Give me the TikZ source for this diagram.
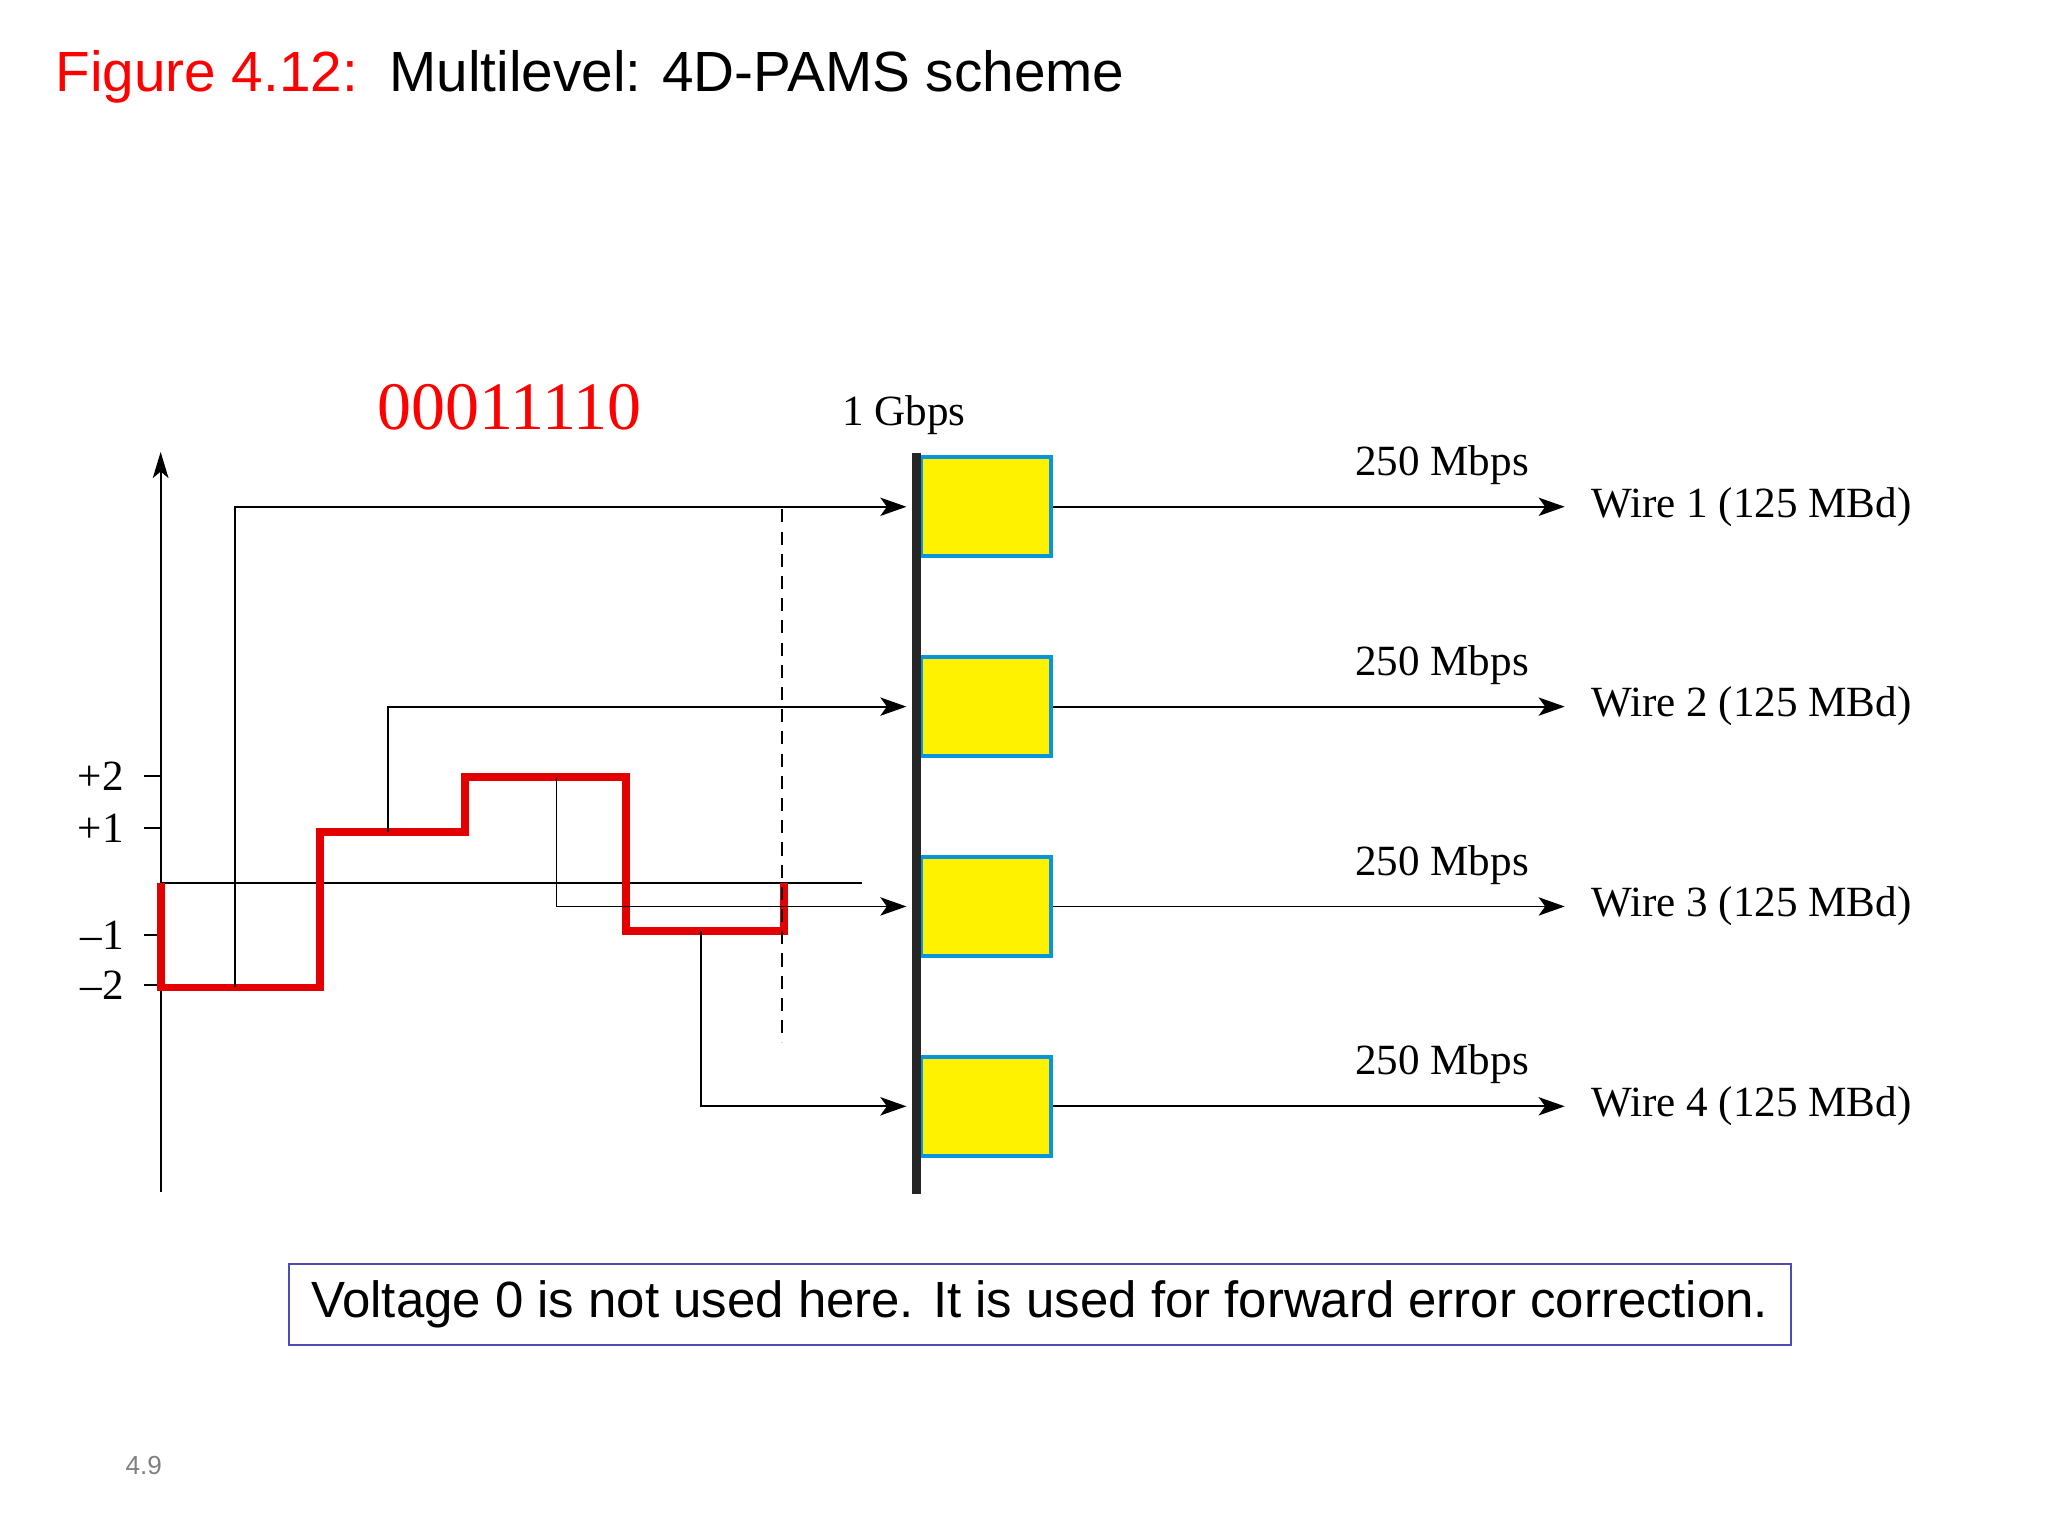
\documentclass[tikz,border=0pt]{standalone}
\usepackage{fontspec}
\setmainfont{Liberation Serif}
\newfontfamily\sans{Liberation Sans}
\usetikzlibrary{arrows.meta}
\begin{document}
\begin{tikzpicture}[x=0.5pt,y=-0.5pt,
  conn/.style={line width=0.7pt,-{Stealth[length=10pt,width=7pt,inset=2.5pt]}},
  ybox/.style={draw=cyan!80!blue,line width=1.5pt,fill=yellow,minimum width=50pt,minimum height=38pt,inner sep=0pt},
  lab/.style={font=\fontsize{16.5}{18}\selectfont,inner sep=0pt}]
\useasboundingbox (0,0) rectangle (1568,1176);
\node[anchor=west,inner sep=0pt,font=\sans\fontsize{21.7}{24}\selectfont] (title) at (42,59) {\textcolor{red}{Figure 4.12:}\ \ Multilevel: 4D-PAMS scheme};
\node[red,inner sep=0pt,font=\fontsize{26}{30}\selectfont] (bits) at (390,312) {00011110};
\node[lab] (gb) at (692,318) {1 Gbps};
% axis
\coordinate (a0) at (123,913); \coordinate (a1) at (123,346);
\draw[line width=0.8pt,-{Stealth[length=10pt,width=6pt,inset=2.5pt]}] (a0) -- (a1);
\foreach \y/\t in {594/+2,634/+1,716/\textendash1,754/\textendash2}{
  \draw[line width=0.7pt] (110,\y) -- (123,\y);
  \node[lab,anchor=east] at (95,\y) {\t};
}
\draw[line width=0.7pt] (123,676) -- (660,676);
% signal
\draw[red!90!black,line width=3pt] (123,676) -- (123,756) -- (245,756) -- (245,637) -- (356,637) -- (356,595) -- (479,595) -- (479,713) -- (600,713) -- (600,676);
\draw[dash pattern=on 5pt off 3.5pt,line width=0.7pt] (599,390) -- (599,798);
% boxes
\node[ybox] (b1) at (755,388) {};
\node[ybox] (b2) at (755,541) {};
\node[ybox] (b3) at (755,694) {};
\node[ybox] (b4) at (755,847) {};
\draw[line width=3.5pt,black!85] (702,347) -- (702,914);
% inputs
\draw[conn] (180,756) |- (694,388);
\draw[conn] (297,637) |- (694,541);
\draw[conn] (426,595) |- (694,694);
\draw[conn] (537,713) |- (694,847);
% outputs
\foreach \i/\y in {1/388,2/541,3/694,4/847}{
  \coordinate (e\i) at (1198,\y);
  \draw[conn] (b\i.east) -- (e\i);
  \node[lab] at (1104,\y-32) {250 Mbps};
  \node[lab,anchor=west] at (1218,\y) {Wire \i\ (125 MBd)};
}
\node[draw=blue!40!gray,line width=0.8pt,minimum width=575pt,minimum height=31pt,inner sep=0pt,font=\sans\fontsize{19.5}{22}\selectfont] (note) at (796,999) {Voltage 0 is not used here. It is used for forward error correction.};
\node[gray,font=\sans\fontsize{10}{12}\selectfont] (pg) at (110,1122) {4.9};
\end{tikzpicture}
\end{document}
